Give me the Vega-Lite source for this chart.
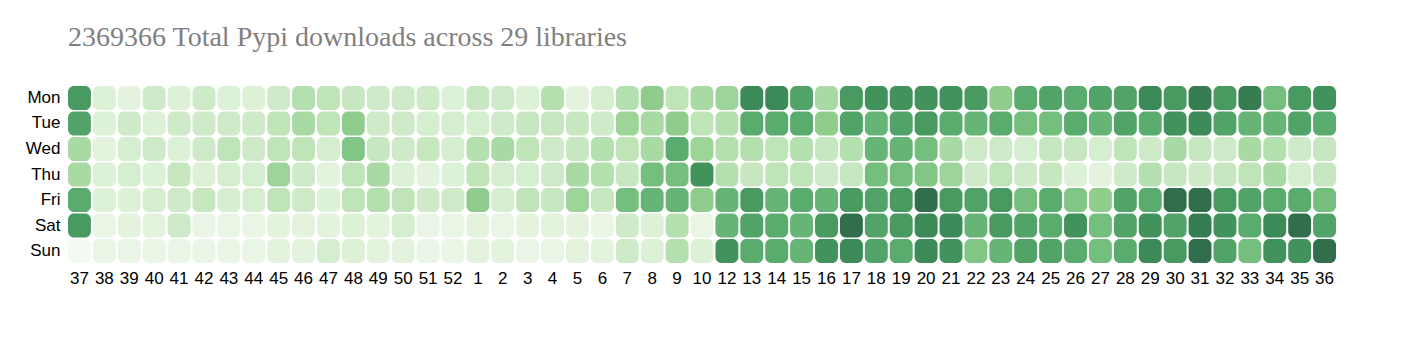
{
  "$schema": "https://vega.github.io/schema/vega-lite/v6.json",
  "width": 1268,
  "height": 177,
  "padding": {"left": 25, "top": 24, "right": 5, "bottom": 5},
  "title": {
    "text": "2369366 Total Pypi downloads across 29 libraries",
    "anchor": "start",
    "frame": "group",
    "font": "Liberation Serif",
    "fontSize": 28,
    "fontWeight": "normal",
    "color": "#808080",
    "offset": 34
  },
  "config": {"view": {"stroke": null}},
  "data": {"values": [
    {"w":"37","d":"Mon","v":9},{"w":"37","d":"Tue","v":8.5},{"w":"37","d":"Wed","v":5},{"w":"37","d":"Thu","v":5},{"w":"37","d":"Fri","v":8},{"w":"37","d":"Sat","v":9},{"w":"37","d":"Sun","v":0},
    {"w":"38","d":"Mon","v":2},{"w":"38","d":"Tue","v":2},{"w":"38","d":"Wed","v":1.5},{"w":"38","d":"Thu","v":2},{"w":"38","d":"Fri","v":2},{"w":"38","d":"Sat","v":1},{"w":"38","d":"Sun","v":1},
    {"w":"39","d":"Mon","v":1.5},{"w":"39","d":"Tue","v":3},{"w":"39","d":"Wed","v":2.5},{"w":"39","d":"Thu","v":2.5},{"w":"39","d":"Fri","v":2},{"w":"39","d":"Sat","v":1.5},{"w":"39","d":"Sun","v":1},
    {"w":"40","d":"Mon","v":3},{"w":"40","d":"Tue","v":2},{"w":"40","d":"Wed","v":3},{"w":"40","d":"Thu","v":2},{"w":"40","d":"Fri","v":2.5},{"w":"40","d":"Sat","v":1.5},{"w":"40","d":"Sun","v":1},
    {"w":"41","d":"Mon","v":2},{"w":"41","d":"Tue","v":3},{"w":"41","d":"Wed","v":2},{"w":"41","d":"Thu","v":3.5},{"w":"41","d":"Fri","v":3},{"w":"41","d":"Sat","v":3},{"w":"41","d":"Sun","v":1},
    {"w":"42","d":"Mon","v":3},{"w":"42","d":"Tue","v":3},{"w":"42","d":"Wed","v":3},{"w":"42","d":"Thu","v":2},{"w":"42","d":"Fri","v":3.5},{"w":"42","d":"Sat","v":1},{"w":"42","d":"Sun","v":1},
    {"w":"43","d":"Mon","v":2},{"w":"43","d":"Tue","v":3},{"w":"43","d":"Wed","v":4},{"w":"43","d":"Thu","v":2.5},{"w":"43","d":"Fri","v":2.5},{"w":"43","d":"Sat","v":1},{"w":"43","d":"Sun","v":1},
    {"w":"44","d":"Mon","v":2},{"w":"44","d":"Tue","v":3},{"w":"44","d":"Wed","v":3},{"w":"44","d":"Thu","v":2.5},{"w":"44","d":"Fri","v":2.5},{"w":"44","d":"Sat","v":1},{"w":"44","d":"Sun","v":1},
    {"w":"45","d":"Mon","v":3},{"w":"45","d":"Tue","v":4},{"w":"45","d":"Wed","v":4},{"w":"45","d":"Thu","v":5.5},{"w":"45","d":"Fri","v":4},{"w":"45","d":"Sat","v":1.5},{"w":"45","d":"Sun","v":1.5},
    {"w":"46","d":"Mon","v":4.5},{"w":"46","d":"Tue","v":5},{"w":"46","d":"Wed","v":4},{"w":"46","d":"Thu","v":3},{"w":"46","d":"Fri","v":3},{"w":"46","d":"Sat","v":1.5},{"w":"46","d":"Sun","v":1.5},
    {"w":"47","d":"Mon","v":4},{"w":"47","d":"Tue","v":4},{"w":"47","d":"Wed","v":2.5},{"w":"47","d":"Thu","v":1.5},{"w":"47","d":"Fri","v":2},{"w":"47","d":"Sat","v":1.5},{"w":"47","d":"Sun","v":2.5},
    {"w":"48","d":"Mon","v":3.5},{"w":"48","d":"Tue","v":6},{"w":"48","d":"Wed","v":6.5},{"w":"48","d":"Thu","v":4},{"w":"48","d":"Fri","v":4},{"w":"48","d":"Sat","v":2},{"w":"48","d":"Sun","v":2},
    {"w":"49","d":"Mon","v":3},{"w":"49","d":"Tue","v":3},{"w":"49","d":"Wed","v":3.5},{"w":"49","d":"Thu","v":5},{"w":"49","d":"Fri","v":4.5},{"w":"49","d":"Sat","v":1.5},{"w":"49","d":"Sun","v":1.5},
    {"w":"50","d":"Mon","v":3},{"w":"50","d":"Tue","v":3},{"w":"50","d":"Wed","v":3},{"w":"50","d":"Thu","v":2},{"w":"50","d":"Fri","v":4},{"w":"50","d":"Sat","v":2.5},{"w":"50","d":"Sun","v":1.5},
    {"w":"51","d":"Mon","v":3},{"w":"51","d":"Tue","v":2.5},{"w":"51","d":"Wed","v":3.5},{"w":"51","d":"Thu","v":1.5},{"w":"51","d":"Fri","v":3},{"w":"51","d":"Sat","v":1},{"w":"51","d":"Sun","v":1},
    {"w":"52","d":"Mon","v":2},{"w":"52","d":"Tue","v":2.5},{"w":"52","d":"Wed","v":2.5},{"w":"52","d":"Thu","v":2},{"w":"52","d":"Fri","v":3},{"w":"52","d":"Sat","v":1},{"w":"52","d":"Sun","v":1},
    {"w":"1","d":"Mon","v":3.5},{"w":"1","d":"Tue","v":2.5},{"w":"1","d":"Wed","v":4.5},{"w":"1","d":"Thu","v":4},{"w":"1","d":"Fri","v":6},{"w":"1","d":"Sat","v":1.5},{"w":"1","d":"Sun","v":1.5},
    {"w":"2","d":"Mon","v":3},{"w":"2","d":"Tue","v":3},{"w":"2","d":"Wed","v":5},{"w":"2","d":"Thu","v":2.5},{"w":"2","d":"Fri","v":2.5},{"w":"2","d":"Sat","v":1},{"w":"2","d":"Sun","v":1.5},
    {"w":"3","d":"Mon","v":2},{"w":"3","d":"Tue","v":3.5},{"w":"3","d":"Wed","v":4},{"w":"3","d":"Thu","v":2.5},{"w":"3","d":"Fri","v":4},{"w":"3","d":"Sat","v":1.5},{"w":"3","d":"Sun","v":1},
    {"w":"4","d":"Mon","v":4.5},{"w":"4","d":"Tue","v":3.5},{"w":"4","d":"Wed","v":3},{"w":"4","d":"Thu","v":3},{"w":"4","d":"Fri","v":3.5},{"w":"4","d":"Sat","v":1.5},{"w":"4","d":"Sun","v":1},
    {"w":"5","d":"Mon","v":1.5},{"w":"5","d":"Tue","v":3.5},{"w":"5","d":"Wed","v":3.5},{"w":"5","d":"Thu","v":5},{"w":"5","d":"Fri","v":5.5},{"w":"5","d":"Sat","v":1.5},{"w":"5","d":"Sun","v":1.5},
    {"w":"6","d":"Mon","v":2.5},{"w":"6","d":"Tue","v":3},{"w":"6","d":"Wed","v":4.5},{"w":"6","d":"Thu","v":4.5},{"w":"6","d":"Fri","v":3.5},{"w":"6","d":"Sat","v":1},{"w":"6","d":"Sun","v":1.5},
    {"w":"7","d":"Mon","v":4.5},{"w":"7","d":"Tue","v":5.5},{"w":"7","d":"Wed","v":4},{"w":"7","d":"Thu","v":3.5},{"w":"7","d":"Fri","v":7},{"w":"7","d":"Sat","v":3},{"w":"7","d":"Sun","v":3},
    {"w":"8","d":"Mon","v":6},{"w":"8","d":"Tue","v":5},{"w":"8","d":"Wed","v":5},{"w":"8","d":"Thu","v":7},{"w":"8","d":"Fri","v":7.5},{"w":"8","d":"Sat","v":2},{"w":"8","d":"Sun","v":2},
    {"w":"9","d":"Mon","v":4},{"w":"9","d":"Tue","v":6},{"w":"9","d":"Wed","v":8},{"w":"9","d":"Thu","v":7},{"w":"9","d":"Fri","v":7.5},{"w":"9","d":"Sat","v":4.5},{"w":"9","d":"Sun","v":4.5},
    {"w":"10","d":"Mon","v":5},{"w":"10","d":"Tue","v":4},{"w":"10","d":"Wed","v":5.5},{"w":"10","d":"Thu","v":9.5},{"w":"10","d":"Fri","v":6},{"w":"10","d":"Sat","v":1},{"w":"10","d":"Sun","v":2},
    {"w":"12","d":"Mon","v":5.5},{"w":"12","d":"Tue","v":4.5},{"w":"12","d":"Wed","v":4.5},{"w":"12","d":"Thu","v":4.5},{"w":"12","d":"Fri","v":7.5},{"w":"12","d":"Sat","v":7.5},{"w":"12","d":"Sun","v":9.5},
    {"w":"13","d":"Mon","v":10},{"w":"13","d":"Tue","v":8},{"w":"13","d":"Wed","v":4.5},{"w":"13","d":"Thu","v":3.5},{"w":"13","d":"Fri","v":9},{"w":"13","d":"Sat","v":8.5},{"w":"13","d":"Sun","v":8},
    {"w":"14","d":"Mon","v":10},{"w":"14","d":"Tue","v":8},{"w":"14","d":"Wed","v":4},{"w":"14","d":"Thu","v":4},{"w":"14","d":"Fri","v":7.5},{"w":"14","d":"Sat","v":8},{"w":"14","d":"Sun","v":8},
    {"w":"15","d":"Mon","v":8.5},{"w":"15","d":"Tue","v":8},{"w":"15","d":"Wed","v":4.5},{"w":"15","d":"Thu","v":4},{"w":"15","d":"Fri","v":8},{"w":"15","d":"Sat","v":7.5},{"w":"15","d":"Sun","v":7.5},
    {"w":"16","d":"Mon","v":5},{"w":"16","d":"Tue","v":6},{"w":"16","d":"Wed","v":3.5},{"w":"16","d":"Thu","v":3},{"w":"16","d":"Fri","v":7.5},{"w":"16","d":"Sat","v":9},{"w":"16","d":"Sun","v":9.5},
    {"w":"17","d":"Mon","v":9},{"w":"17","d":"Tue","v":8.5},{"w":"17","d":"Wed","v":4.5},{"w":"17","d":"Thu","v":3.5},{"w":"17","d":"Fri","v":9},{"w":"17","d":"Sat","v":11},{"w":"17","d":"Sun","v":10},
    {"w":"18","d":"Mon","v":9.5},{"w":"18","d":"Tue","v":7.5},{"w":"18","d":"Wed","v":7.5},{"w":"18","d":"Thu","v":7},{"w":"18","d":"Fri","v":8.5},{"w":"18","d":"Sat","v":8.5},{"w":"18","d":"Sun","v":8.5},
    {"w":"19","d":"Mon","v":9.5},{"w":"19","d":"Tue","v":8.5},{"w":"19","d":"Wed","v":7.5},{"w":"19","d":"Thu","v":7},{"w":"19","d":"Fri","v":9},{"w":"19","d":"Sat","v":9},{"w":"19","d":"Sun","v":8},
    {"w":"20","d":"Mon","v":9.5},{"w":"20","d":"Tue","v":9},{"w":"20","d":"Wed","v":7},{"w":"20","d":"Thu","v":6.5},{"w":"20","d":"Fri","v":11},{"w":"20","d":"Sat","v":10},{"w":"20","d":"Sun","v":10},
    {"w":"21","d":"Mon","v":9.5},{"w":"21","d":"Tue","v":8},{"w":"21","d":"Wed","v":5},{"w":"21","d":"Thu","v":5.5},{"w":"21","d":"Fri","v":9},{"w":"21","d":"Sat","v":10},{"w":"21","d":"Sun","v":9.5},
    {"w":"22","d":"Mon","v":9},{"w":"22","d":"Tue","v":7.5},{"w":"22","d":"Wed","v":3},{"w":"22","d":"Thu","v":3},{"w":"22","d":"Fri","v":8.5},{"w":"22","d":"Sat","v":7.5},{"w":"22","d":"Sun","v":6.5},
    {"w":"23","d":"Mon","v":6},{"w":"23","d":"Tue","v":8},{"w":"23","d":"Wed","v":3},{"w":"23","d":"Thu","v":4},{"w":"23","d":"Fri","v":9},{"w":"23","d":"Sat","v":9},{"w":"23","d":"Sun","v":7.5},
    {"w":"24","d":"Mon","v":8},{"w":"24","d":"Tue","v":7},{"w":"24","d":"Wed","v":2.5},{"w":"24","d":"Thu","v":3},{"w":"24","d":"Fri","v":7},{"w":"24","d":"Sat","v":8.5},{"w":"24","d":"Sun","v":8.5},
    {"w":"25","d":"Mon","v":8.5},{"w":"25","d":"Tue","v":7},{"w":"25","d":"Wed","v":3.5},{"w":"25","d":"Thu","v":3.5},{"w":"25","d":"Fri","v":8},{"w":"25","d":"Sat","v":8},{"w":"25","d":"Sun","v":8.5},
    {"w":"26","d":"Mon","v":8},{"w":"26","d":"Tue","v":8},{"w":"26","d":"Wed","v":3.5},{"w":"26","d":"Thu","v":2},{"w":"26","d":"Fri","v":6.5},{"w":"26","d":"Sat","v":9.5},{"w":"26","d":"Sun","v":8},
    {"w":"27","d":"Mon","v":8.5},{"w":"27","d":"Tue","v":7.5},{"w":"27","d":"Wed","v":2.5},{"w":"27","d":"Thu","v":1.5},{"w":"27","d":"Fri","v":6},{"w":"27","d":"Sat","v":7},{"w":"27","d":"Sun","v":7},
    {"w":"28","d":"Mon","v":8.5},{"w":"28","d":"Tue","v":8.5},{"w":"28","d":"Wed","v":4},{"w":"28","d":"Thu","v":3},{"w":"28","d":"Fri","v":8.5},{"w":"28","d":"Sat","v":8.5},{"w":"28","d":"Sun","v":8},
    {"w":"29","d":"Mon","v":10},{"w":"29","d":"Tue","v":8},{"w":"29","d":"Wed","v":3},{"w":"29","d":"Thu","v":4.5},{"w":"29","d":"Fri","v":8},{"w":"29","d":"Sat","v":9.5},{"w":"29","d":"Sun","v":10},
    {"w":"30","d":"Mon","v":9},{"w":"30","d":"Tue","v":9.5},{"w":"30","d":"Wed","v":5},{"w":"30","d":"Thu","v":3.5},{"w":"30","d":"Fri","v":11},{"w":"30","d":"Sat","v":8.5},{"w":"30","d":"Sun","v":9},
    {"w":"31","d":"Mon","v":10.5},{"w":"31","d":"Tue","v":10},{"w":"31","d":"Wed","v":3.5},{"w":"31","d":"Thu","v":3},{"w":"31","d":"Fri","v":11},{"w":"31","d":"Sat","v":10.5},{"w":"31","d":"Sun","v":11},
    {"w":"32","d":"Mon","v":9},{"w":"32","d":"Tue","v":8.5},{"w":"32","d":"Wed","v":3},{"w":"32","d":"Thu","v":3.5},{"w":"32","d":"Fri","v":9},{"w":"32","d":"Sat","v":9.5},{"w":"32","d":"Sun","v":8.5},
    {"w":"33","d":"Mon","v":10.5},{"w":"33","d":"Tue","v":7.5},{"w":"33","d":"Wed","v":5},{"w":"33","d":"Thu","v":4},{"w":"33","d":"Fri","v":8.5},{"w":"33","d":"Sat","v":8},{"w":"33","d":"Sun","v":7},
    {"w":"34","d":"Mon","v":7},{"w":"34","d":"Tue","v":7.5},{"w":"34","d":"Wed","v":4.5},{"w":"34","d":"Thu","v":5},{"w":"34","d":"Fri","v":8},{"w":"34","d":"Sat","v":10},{"w":"34","d":"Sun","v":9.5},
    {"w":"35","d":"Mon","v":9},{"w":"35","d":"Tue","v":8.5},{"w":"35","d":"Wed","v":3},{"w":"35","d":"Thu","v":2.5},{"w":"35","d":"Fri","v":8},{"w":"35","d":"Sat","v":11},{"w":"35","d":"Sun","v":9.5},
    {"w":"36","d":"Mon","v":9.5},{"w":"36","d":"Tue","v":8},{"w":"36","d":"Wed","v":3.5},{"w":"36","d":"Thu","v":3.5},{"w":"36","d":"Fri","v":7},{"w":"36","d":"Sat","v":8.5},{"w":"36","d":"Sun","v":11}
  ]},
  "mark": {"type": "rect", "cornerRadius": 6},
  "encoding": {
    "x": {
      "field": "w", "type": "ordinal", "sort": null, "title": null,
      "scale": {"paddingInner": 0.08, "paddingOuter": 0.0},
      "axis": {"orient": "bottom", "labelAngle": 0, "ticks": false, "domain": false, "labelFont": "Liberation Sans", "labelFontSize": 17, "labelColor": "#000000", "labelPadding": 7}
    },
    "y": {
      "field": "d", "type": "ordinal", "title": null,
      "sort": ["Mon","Tue","Wed","Thu","Fri","Sat","Sun"],
      "scale": {"paddingInner": 0.06, "paddingOuter": 0.0},
      "axis": {"ticks": false, "domain": false, "labelFont": "Liberation Sans", "labelFontSize": 17, "labelColor": "#000000", "labelPadding": 8}
    },
    "color": {
      "field": "v", "type": "quantitative", "legend": null,
      "scale": {
        "domain": [0,1,2,3,4,5,6,7,8,9,10,11],
        "range": ["#f4faf1","#e9f5e5","#ddf1d7","#cfeac8","#bfe4b8","#a9daa3","#90cd8d","#74bf7e","#5aab6e","#489a60","#3b8a57","#316f4c"],
        "interpolate": "rgb"
      }
    }
  }
}
